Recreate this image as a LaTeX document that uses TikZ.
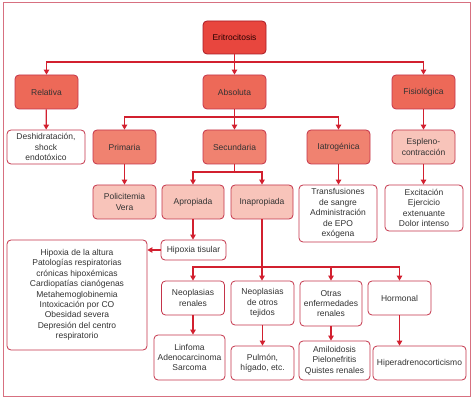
\documentclass[tikz,border=0pt]{standalone}
\usepackage{fontspec}
\setmainfont{Liberation Sans}
\usetikzlibrary{arrows.meta}
\definecolor{clrline}{HTML}{D2202F}
\definecolor{clrbord}{HTML}{C4344A}
\definecolor{clrframe}{HTML}{D77080}
\definecolor{clrtop}{HTML}{E8463E}
\definecolor{clrone}{HTML}{ED6958}
\definecolor{clrtwo}{HTML}{F08270}
\definecolor{clrthree}{HTML}{F8C4BA}
\tikzset{
  box/.style={draw=clrbord, line width=0.8pt, rounded corners=4pt, align=center,
    inner sep=1pt, text=black!80, font=\fontsize{8.5}{10.4}\selectfont},
  topbox/.style={box, fill=clrtop, draw=clrline!80!black, text=black!85!red},
  onebox/.style={box, fill=clrone},
  twobox/.style={box, fill=clrtwo},
  threebox/.style={box, fill=clrthree},
  leafbox/.style={box, fill=white},
  link/.style={draw=clrline, line width=1.2pt, -{Triangle[length=5pt,width=5.5pt]}},
  plain/.style={draw=clrline, line width=1.2pt}
}
\begin{document}
\begin{tikzpicture}[x=1pt,y=-1pt]
    \useasboundingbox (0,0) rectangle (474,414);
    \draw[clrframe, line width=1pt] (3,3) rectangle (470,396);

    % top levels
    \node[topbox, minimum width=63pt, minimum height=33pt] (er) at (234.5,37.5) {Eritrocitosis};
    \node[onebox, minimum width=63pt, minimum height=34pt] (rel) at (46.5,92) {Relativa};
    \node[onebox, minimum width=63pt, minimum height=34pt] (abs) at (234.5,92) {Absoluta};
    \node[onebox, minimum width=63pt, minimum height=34pt] (fis) at (423.5,92) {Fisiológica};

    \node[leafbox, minimum width=78pt, minimum height=34pt] (desh) at (46,147) {Deshidratación,\\shock\\endotóxico};
    \node[twobox, minimum width=63pt, minimum height=34pt] (pri) at (124.5,147) {Primaria};
    \node[twobox, minimum width=63pt, minimum height=34pt] (sec) at (234.5,147) {Secundaria};
    \node[twobox, minimum width=63pt, minimum height=34pt] (iat) at (338.5,147) {Iatrogénica};
    \node[threebox, minimum width=63pt, minimum height=34pt] (esp) at (423.5,147) {Espleno-\\contracción};

    \node[threebox, minimum width=63pt, minimum height=34pt] (pv) at (124.5,202) {Policitemia\\Vera};
    \node[threebox, minimum width=62pt, minimum height=34pt] (apr) at (193,202) {Apropiada};
    \node[threebox, minimum width=62pt, minimum height=34pt] (inap) at (262,202) {Inapropiada};
    \node[leafbox, minimum width=78pt, minimum height=57pt] (tra) at (338,213.5) {Transfusiones\\de sangre\\Administración\\de EPO\\exógena};
    \node[leafbox, minimum width=78pt, minimum height=46pt] (exc) at (424,208) {Excitación\\Ejercicio\\extenuante\\Dolor intenso};

    \node[leafbox, minimum width=65pt, minimum height=20pt] (hip) at (193.5,250) {Hipoxia tisular};
    \node[leafbox, minimum width=140pt, minimum height=110pt] (alt) at (77,295) {Hipoxia de la altura\\Patologías respiratorias\\crónicas hipoxémicas\\Cardiopatías cianógenas\\Metahemoglobinemia\\Intoxicación por CO\\Obesidad severa\\Depresión del centro\\respiratorio};

    % inapropiada branch
    \node[leafbox, minimum width=63pt, minimum height=34pt] (neo1) at (193,298) {Neoplasias\\renales};
    \node[leafbox, minimum width=63pt, minimum height=44pt] (neo2) at (262.5,303) {Neoplasias\\de otros\\tejidos};
    \node[leafbox, minimum width=62pt, minimum height=45pt] (otr) at (331,303.5) {Otras\\enfermedades\\renales};
    \node[leafbox, minimum width=63pt, minimum height=34pt] (hor) at (399.5,298) {Hormonal};

    \node[leafbox, minimum width=71pt, minimum height=45pt] (lin) at (189.5,357.5) {Linfoma\\Adenocarcinoma\\Sarcoma};
    \node[leafbox, minimum width=63pt, minimum height=34pt] (pul) at (262.5,363) {Pulmón,\\hígado, etc.};
    \node[leafbox, minimum width=71pt, minimum height=39pt] (ami) at (334.5,360.5) {Amiloidosis\\Pielonefritis\\Quistes renales};
    \node[leafbox, minimum width=93pt, minimum height=34pt] (hac) at (419.5,363) {Hiperadrenocorticismo};

    \coordinate (j1) at (234.5,62);
    \coordinate (j2) at (234.5,117);
    \coordinate (j3) at (234.5,172);
    \coordinate (j4) at (262,267);

    \draw[link] (er) -- (abs);
    \draw[link] (j1) -| (rel);
    \draw[link] (j1) -| (fis);
    \draw[link] (abs) -- (sec);
    \draw[link] (j2) -| (pri);
    \draw[link] (j2) -| (iat);
    \draw[plain] (sec.south) -- (j3);
    \draw[link] (j3) -| (apr);
    \draw[link] (j3) -| (inap);

    \draw[link] (rel) -- (desh);
    \draw[link] (pri) -- (pv);
    \draw[link] (iat) -- (iat |- tra.north);
    \draw[link] (fis) -- (esp);
    \draw[link] (esp) -- (esp |- exc.north);

    \draw[link] (apr) -- (apr |- hip.north);
    \draw[link] (hip.west) -- (hip.west -| alt.east);

    \draw[link] (inap) -- (inap |- neo2.north);
    \draw[link] (j4) -| (neo1);
    \draw[link] (j4) -| (otr);
    \draw[link] (j4) -| (hor);

    \draw[link] (neo1) -- (neo1 |- lin.north);
    \draw[link] (neo2) -- (neo2 |- pul.north);
    \draw[link] (otr) -- (otr |- ami.north);
    \draw[link] (hor) -- (hor |- hac.north);

\end{tikzpicture}
\end{document}
